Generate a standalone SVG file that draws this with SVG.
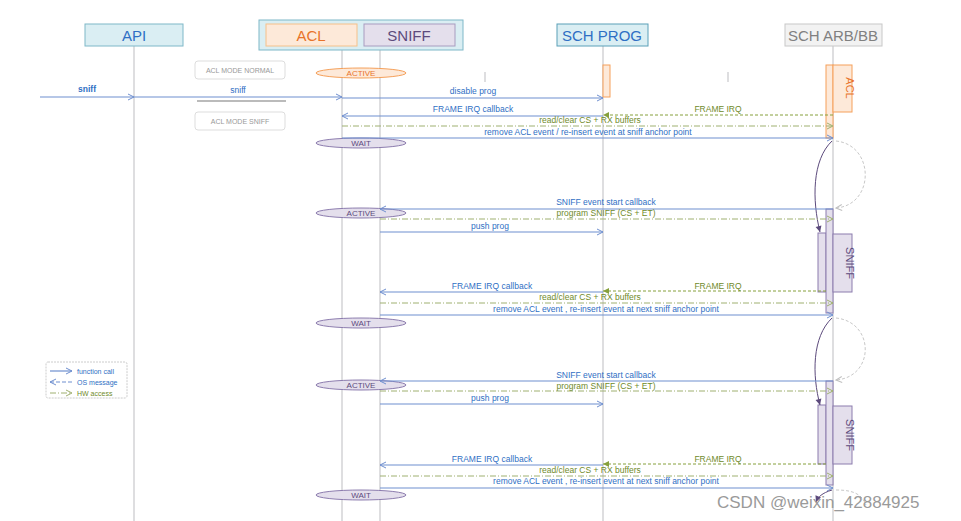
<svg xmlns="http://www.w3.org/2000/svg" width="961" height="521" viewBox="0 0 961 521">
<defs>
<style>
text{font-family:"Liberation Sans","Open Sans",sans-serif}
.ll{stroke:#c8c8cc;stroke-width:1.2}
.fn{stroke:#6f8fcf;stroke-width:1.2;fill:none}
.os{stroke:#86a03c;stroke-width:1;stroke-dasharray:3 2;fill:none}
.hw{stroke:#9fb070;stroke-width:1;stroke-dasharray:6 2 1 2;fill:none}
.lb{font-size:8.5px;fill:#2f6fc4;text-anchor:middle}
.lg{font-size:8.5px;fill:#6f8a2a;text-anchor:middle}
.st{font-size:8px;fill:#5c4a7c;text-anchor:middle}
.hd{font-size:15px;text-anchor:middle}
</style>
<marker id="ao" markerWidth="8" markerHeight="8" refX="7" refY="4" orient="auto" markerUnits="userSpaceOnUse"><path d="M1,1 L7,4 L1,7" fill="none" stroke="#6f8fcf" stroke-width="1"/></marker>
<marker id="ag" markerWidth="8" markerHeight="8" refX="7" refY="4" orient="auto" markerUnits="userSpaceOnUse"><path d="M1,1 L7,4 L1,7" fill="none" stroke="#9fb070" stroke-width="1"/></marker>
<marker id="af" markerWidth="8" markerHeight="8" refX="7" refY="4" orient="auto" markerUnits="userSpaceOnUse"><path d="M1,1 L7,4 L1,7Z" fill="#86a03c"/></marker>
<marker id="ap" markerWidth="8" markerHeight="8" refX="7" refY="4" orient="auto" markerUnits="userSpaceOnUse"><path d="M1,1 L7,4 L1,7Z" fill="#5c4a7c"/></marker>
<marker id="ay" markerWidth="8" markerHeight="8" refX="7" refY="4" orient="auto" markerUnits="userSpaceOnUse"><path d="M1,1 L7,4 L1,7" fill="none" stroke="#c0c0c0" stroke-width="1"/></marker>
</defs>
<rect width="961" height="521" fill="#fff"/>
<g id="lifelines">
<line class="ll" x1="134" y1="46" x2="134" y2="521"/>
<line class="ll" x1="342" y1="46" x2="342" y2="521"/>
<line class="ll" x1="380" y1="46" x2="380" y2="521"/>
<line class="ll" x1="603" y1="46" x2="603" y2="521"/>
<line class="ll" x1="833" y1="46" x2="833" y2="521"/>
<line class="ll" x1="485" y1="72" x2="485" y2="82"/>
<line class="ll" x1="728" y1="72" x2="728" y2="82"/>
</g>
<g id="api"><rect x="85" y="24" width="98" height="22" fill="#daeef3" stroke="#7fb8c8"/><text class="hd" x="134" y="41" fill="#2f6fc4">API</text></g>
<g id="acl-sniff">
<rect x="259" y="20" width="204" height="30" fill="#daeef3" stroke="#7fb8c8"/>
<rect x="266" y="24" width="91" height="22" fill="#fde9d9" stroke="#f5c08a"/><text class="hd" x="311" y="41" fill="#e8732a">ACL</text>
<rect x="364" y="24" width="91" height="22" fill="#e4dfec" stroke="#a89cc0"/><text class="hd" x="409" y="41" fill="#5c4a7c">SNIFF</text>
</g>
<g id="schprog"><rect x="557" y="24" width="91" height="22" fill="#daeef3" stroke="#5aa0b8"/><text class="hd" x="602" y="41" fill="#2f6fc4">SCH PROG</text></g>
<g id="scharb"><rect x="785" y="24" width="97" height="22" fill="#f2f2f2" stroke="#c8c8c8"/><text class="hd" x="833" y="41" fill="#808080">SCH ARB/BB</text></g>
<g id="notes">
<rect x="195" y="61" width="90" height="18" rx="3" fill="#fff" stroke="#ddd"/><text x="240" y="73" font-size="7px" fill="#999" text-anchor="middle">ACL MODE NORMAL</text>
<rect x="195" y="112" width="90" height="18" rx="3" fill="#fff" stroke="#ddd"/><text x="240" y="124" font-size="7px" fill="#999" text-anchor="middle">ACL MODE SNIFF</text>
<line x1="197" y1="101" x2="286" y2="101" stroke="#bbb" stroke-width="2"/>
</g>
<g id="activations">
<rect x="603" y="65" width="7" height="32" fill="#fde9d9" stroke="#f5a05a"/>
<rect x="826" y="65" width="7" height="73" fill="#fde9d9" stroke="#f5a05a"/>
<rect x="833" y="65" width="19" height="47" fill="#fde9d9" stroke="#f5a05a"/>
<text x="842" y="88" font-size="11px" fill="#e8732a" text-anchor="middle" transform="rotate(90 842 88)" dy="-4">ACL</text>
<rect x="818" y="233" width="8" height="59" fill="#e4dfec" stroke="#8c7cae"/>
<rect x="826" y="209" width="7" height="104" fill="#e4dfec" stroke="#8c7cae"/>
<rect x="833" y="234" width="19" height="58" fill="#e4dfec" stroke="#8c7cae"/>
<text x="842" y="263" font-size="11px" fill="#5c4a7c" text-anchor="middle" transform="rotate(90 842 263)" dy="-4">SNIFF</text>
<rect x="818" y="405" width="8" height="59" fill="#e4dfec" stroke="#8c7cae"/>
<rect x="826" y="381" width="7" height="104" fill="#e4dfec" stroke="#8c7cae"/>
<rect x="833" y="406" width="19" height="58" fill="#e4dfec" stroke="#8c7cae"/>
<text x="842" y="435" font-size="11px" fill="#5c4a7c" text-anchor="middle" transform="rotate(90 842 435)" dy="-4">SNIFF</text>
</g>
<g id="states">
<ellipse cx="361" cy="73" rx="45" ry="5" fill="#fde9d9" stroke="#f5a05a"/><text x="361" y="76" font-size="8px" fill="#e8732a" text-anchor="middle">ACTIVE</text>
<ellipse cx="361" cy="143" rx="45" ry="5" fill="#e4dfec" stroke="#8c7cae"/><text class="st" x="361" y="146">WAIT</text>
<ellipse cx="361" cy="213" rx="45" ry="5" fill="#e4dfec" stroke="#8c7cae"/><text class="st" x="361" y="216">ACTIVE</text>
<ellipse cx="361" cy="323" rx="45" ry="5" fill="#e4dfec" stroke="#8c7cae"/><text class="st" x="361" y="326">WAIT</text>
<ellipse cx="361" cy="385" rx="45" ry="5" fill="#e4dfec" stroke="#8c7cae"/><text class="st" x="361" y="388">ACTIVE</text>
<ellipse cx="361" cy="495" rx="45" ry="5" fill="#e4dfec" stroke="#8c7cae"/><text class="st" x="361" y="498">WAIT</text>
</g>
<g id="connectors">
<line class="fn" x1="40" y1="97" x2="134" y2="97" marker-end="url(#ao)"/><text x="87" y="92" font-size="8.5px" font-weight="bold" fill="#2f6fc4" text-anchor="middle">sniff</text>
<line class="fn" x1="134" y1="97" x2="342" y2="97" marker-end="url(#ao)"/><text class="lb" x="238" y="93">sniff</text>
<line class="fn" x1="342" y1="98" x2="603" y2="98" marker-end="url(#ao)"/><text class="lb" x="473" y="94">disable prog</text>
<line class="fn" x1="603" y1="116" x2="342" y2="116" marker-end="url(#ao)"/><text class="lb" x="473" y="112">FRAME IRQ callback</text>
<line class="os" x1="833" y1="115" x2="603" y2="115" marker-end="url(#af)"/><text class="lg" x="718" y="112">FRAME IRQ</text>
<line class="hw" x1="342" y1="126" x2="833" y2="126" marker-end="url(#ag)"/><text class="lg" x="590" y="123">read/clear CS + RX buffers</text>
<line class="fn" x1="342" y1="138" x2="833" y2="138" marker-end="url(#ao)"/><text class="lb" x="588" y="135">remove ACL event / re-insert event at sniff anchor point</text>
<path d="M836,141 C875,145 875,205 836,208" stroke="#c8c8c8" stroke-dasharray="3 2" fill="none" marker-end="url(#ay)"/>
<path d="M832,141 C812,160 812,200 820,232" stroke="#5c4a7c" fill="none" marker-end="url(#ap)"/>
<line class="fn" x1="833" y1="209" x2="380" y2="209" marker-end="url(#ao)"/><text class="lb" x="606" y="205">SNIFF event start callback</text>
<line class="hw" x1="380" y1="219" x2="833" y2="219" marker-end="url(#ag)"/><text class="lg" x="606" y="216">program SNIFF (CS + ET)</text>
<line class="fn" x1="380" y1="232" x2="603" y2="232" marker-end="url(#ao)"/><text class="lb" x="490" y="229">push prog</text>
<line class="fn" x1="603" y1="292" x2="380" y2="292" marker-end="url(#ao)"/><text class="lb" x="492" y="289">FRAME IRQ callback</text>
<line class="os" x1="826" y1="291" x2="603" y2="291" marker-end="url(#af)"/><text class="lg" x="718" y="289">FRAME IRQ</text>
<line class="hw" x1="380" y1="303" x2="833" y2="303" marker-end="url(#ag)"/><text class="lg" x="590" y="300">read/clear CS + RX buffers</text>
<line class="fn" x1="380" y1="315" x2="833" y2="315" marker-end="url(#ao)"/><text class="lb" x="606" y="312">remove ACL event , re-insert event at next sniff anchor point</text>
<path d="M836,318 C875,322 875,377 836,380" stroke="#c8c8c8" stroke-dasharray="3 2" fill="none" marker-end="url(#ay)"/>
<path d="M832,318 C812,337 812,375 820,405" stroke="#5c4a7c" fill="none" marker-end="url(#ap)"/>
<line class="fn" x1="833" y1="381" x2="380" y2="381" marker-end="url(#ao)"/><text class="lb" x="606" y="378">SNIFF event start callback</text>
<line class="hw" x1="380" y1="391" x2="833" y2="391" marker-end="url(#ag)"/><text class="lg" x="606" y="389">program SNIFF (CS + ET)</text>
<line class="fn" x1="380" y1="404" x2="603" y2="404" marker-end="url(#ao)"/><text class="lb" x="490" y="401">push prog</text>
<line class="fn" x1="603" y1="465" x2="380" y2="465" marker-end="url(#ao)"/><text class="lb" x="492" y="462">FRAME IRQ callback</text>
<line class="os" x1="826" y1="464" x2="603" y2="464" marker-end="url(#af)"/><text class="lg" x="718" y="462">FRAME IRQ</text>
<line class="hw" x1="380" y1="476" x2="833" y2="476" marker-end="url(#ag)"/><text class="lg" x="590" y="473">read/clear CS + RX buffers</text>
<line class="fn" x1="380" y1="488" x2="833" y2="488" marker-end="url(#ao)"/><text class="lb" x="606" y="484">remove ACL event , re-insert event at next sniff anchor point</text>
<path d="M836,490 C855,490 862,495 866,505" stroke="#c8c8c8" stroke-dasharray="3 2" fill="none"/>
<path d="M832,490 C822,493 818,497 816,502" stroke="#5c4a7c" fill="none" marker-end="url(#ap)"/>
</g>
<g id="legend">
<rect x="46" y="362" width="81" height="36" rx="2" fill="#fff" stroke="#ccc" stroke-dasharray="2 1"/>
<line class="fn" x1="50" y1="371" x2="72" y2="371" marker-end="url(#ao)"/><text x="77" y="374" font-size="7px" fill="#2f6fc4">function call</text>
<line x1="72" y1="382" x2="50" y2="382" stroke="#6f8fcf" stroke-dasharray="4 2" marker-end="url(#ao)"/><text x="77" y="385" font-size="7px" fill="#2f6fc4">OS message</text>
<line class="hw" x1="50" y1="393" x2="72" y2="393" marker-end="url(#ag)"/><text x="77" y="396" font-size="7px" fill="#6f8a2a">HW access</text>
</g>
<text x="717" y="508" font-size="17px" fill="#9a9a9a">CSDN @weixin_42884925</text>
</svg>
